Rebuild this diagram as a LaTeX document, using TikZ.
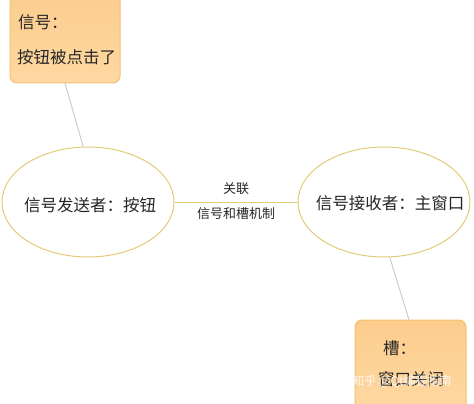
\documentclass[tikz,border=0pt]{standalone}
\usepackage{fontspec}
\usetikzlibrary{shapes.geometric}
\newfontfamily\cjk{Noto Sans CJK SC}
\begin{document}
\begin{tikzpicture}[x=1pt,y=-1pt,
  note/.style={draw=boxedge,line width=1pt,rounded corners=7pt,top color=boxtop,bottom color=boxbot},
  ell/.style={draw=elledge,line width=1pt,fill=white,ellipse,minimum width=172pt,minimum height=110pt,inner sep=0pt},
  link/.style={draw=linkgray,line width=0.9pt},
  mid/.style={draw=elledge,line width=1pt},
  big/.style={font=\cjk\fontsize{16.5}{18}\selectfont,text=black!85,inner sep=0pt},
  small/.style={font=\cjk\fontsize{13}{15}\selectfont,text=black!85,inner sep=0pt}]
\definecolor{boxedge}{HTML}{F2C26E}
\definecolor{boxtop}{HTML}{FCCC8E}
\definecolor{boxbot}{HTML}{FED9A2}
\definecolor{elledge}{HTML}{E2CC7A}
\definecolor{linkgray}{HTML}{C8C8CC}
\useasboundingbox (0,0) rectangle (474,404);
% top box
\path[note] (10,-8) rectangle (120,83);
\coordinate (tb) at (65,83);
\node[big,anchor=west] (t1) at (18,22) {信号：};
\node[big,anchor=west] (t2) at (17,57) {按钮被点击了};
% bottom box
\path[note] (355,320) rectangle (466,412);
\coordinate (bb) at (409,320);
\node[big,anchor=west] (b1) at (383,348) {槽：};
\node[big,anchor=west] (b2) at (378,379) {窗口关闭};
% ellipses
\node[ell] (le) at (88,202) {};
\node[ell] (re) at (384,202) {};
\node[big] (ls) at (90,205) {信号发送者：按钮};
\node[big] (rs) at (390,203) {信号接收者：主窗口};
% connectors
\draw[link] (tb) -- (le.95);
\draw[link] (re.-84) -- (bb);
\draw[mid] (le.east) -- (re.west);
\node[small] (a1) at (236,189) {关联};
\node[small] (a2) at (236,214) {信号和槽机制};
% watermark
\node[font=\cjk\fontsize{12}{14}\selectfont,text=white,opacity=0.85] (wm) at (402,382) {知乎 @Qt编程指南};
\end{tikzpicture}
\end{document}
